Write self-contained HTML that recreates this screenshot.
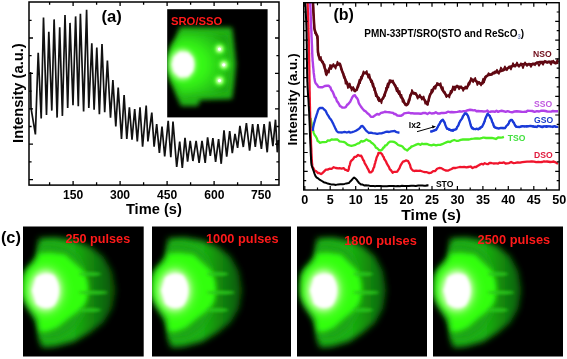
<!DOCTYPE html>
<html><head><meta charset="utf-8"><style>
html,body{margin:0;padding:0;background:#fff;overflow:hidden;}
svg{display:block;will-change:transform;}
</style></head><body>
<svg width="567" height="359" viewBox="0 0 567 359">
<defs>
<radialGradient id="gins" gradientUnits="userSpaceOnUse" cx="184" cy="64.5" r="52" gradientTransform="translate(184,64.5) scale(1,0.85) translate(-184,-64.5)"><stop offset="0" stop-color="#3cff14"/><stop offset="0.4" stop-color="#36f812"/><stop offset="0.75" stop-color="#26c414"/><stop offset="1" stop-color="#189a0e"/></radialGradient>
<linearGradient id="gmed" gradientUnits="userSpaceOnUse" x1="55" y1="0" x2="92" y2="0"><stop offset="0" stop-color="#1ab012"/><stop offset="1" stop-color="#0a5806"/></linearGradient>
<filter id="b6" x="-50%" y="-50%" width="200%" height="200%"><feGaussianBlur stdDeviation="6"/></filter>
<filter id="b5" x="-50%" y="-50%" width="200%" height="200%"><feGaussianBlur stdDeviation="5"/></filter>
<filter id="b4" x="-50%" y="-50%" width="200%" height="200%"><feGaussianBlur stdDeviation="4"/></filter>
<filter id="b3" x="-50%" y="-50%" width="200%" height="200%"><feGaussianBlur stdDeviation="3"/></filter>
<filter id="b25" x="-50%" y="-50%" width="200%" height="200%"><feGaussianBlur stdDeviation="2.5"/></filter>
<filter id="b2" x="-50%" y="-50%" width="200%" height="200%"><feGaussianBlur stdDeviation="2"/></filter>
<filter id="b15" x="-50%" y="-50%" width="200%" height="200%"><feGaussianBlur stdDeviation="1.5"/></filter>
<filter id="b1" x="-50%" y="-50%" width="200%" height="200%"><feGaussianBlur stdDeviation="1"/></filter>
<filter id="b05" x="-50%" y="-50%" width="200%" height="200%"><feGaussianBlur stdDeviation="0.5"/></filter>
</defs>
<rect width="567" height="359" fill="#fff"/>
<polyline points="30.5,72.0 31.0,108.0 35.4,134.4 38.2,52.9 41.2,118.5 43.5,17.6 46.5,115.0 48.8,31.7 51.8,110.6 54.1,19.4 57.1,117.6 59.7,27.3 62.4,115.9 65.0,15.0 67.7,108.0 70.0,22.9 73.0,105.3 75.6,16.4 78.3,106.2 80.4,13.8 83.6,111.5 86.6,9.7 88.8,108.0 91.8,43.2 94.1,109.7 96.8,47.6 99.4,114.1 102.0,44.0 104.7,112.3 107.4,60.5 110.5,117.6 112.9,80.0 115.8,126.5 118.2,87.5 121.5,139.0 124.1,95.0 126.8,139.0 129.4,107.3 132.0,139.7 134.7,109.1 137.3,141.5 140.0,107.3 142.6,146.7 146.2,105.6 147.9,141.5 151.8,112.6 154.1,146.7 156.7,124.1 159.4,152.9 162.0,126.7 164.7,156.4 168.2,120.8 170.8,157.3 173.0,121.6 176.7,167.0 179.7,141.5 182.3,167.9 185.0,137.9 187.6,161.7 190.2,140.8 192.9,161.0 196.1,140.8 199.1,162.9 202.0,140.8 205.2,162.9 207.6,137.3 210.3,155.9 212.9,138.2 215.6,162.0 218.6,139.1 221.2,163.8 224.0,130.3 226.7,156.7 229.7,131.2 232.3,153.2 235.0,133.8 237.6,147.9 239.9,125.9 243.3,147.0 246.4,123.2 249.6,150.6 252.6,124.1 255.3,147.0 257.9,124.1 261.4,148.8 264.1,124.1 267.2,152.3 269.7,121.5 272.9,146.2 275.5,119.7 277.3,152.3 278.5,140.0" fill="none" stroke="#111" stroke-width="1.7" stroke-linejoin="miter" stroke-miterlimit="4"/>
<rect x="29" y="2.0" width="250" height="183.1" fill="none" stroke="#000" stroke-width="1.5"/>
<path d="M49.6,185.1v-2.8M49.6,2.0v2.8M73.1,185.1v-4M73.1,2.0v4M96.6,185.1v-2.8M96.6,2.0v2.8M120.1,185.1v-4M120.1,2.0v4M143.6,185.1v-2.8M143.6,2.0v2.8M167.1,185.1v-4M167.1,2.0v4M190.6,185.1v-2.8M190.6,2.0v2.8M214.1,185.1v-4M214.1,2.0v4M237.6,185.1v-2.8M237.6,2.0v2.8M261.1,185.1v-4M261.1,2.0v4M29,20.3h2.6M279,20.3h-2.6M29,38.0h4M279,38.0h-4M29,55.7h2.6M279,55.7h-2.6M29,73.4h4M279,73.4h-4M29,91.1h2.6M279,91.1h-2.6M29,108.8h4M279,108.8h-4M29,126.5h2.6M279,126.5h-2.6M29,144.2h4M279,144.2h-4M29,161.9h2.6M279,161.9h-2.6M29,179.6h4M279,179.6h-4" stroke="#000" stroke-width="1.3" fill="none"/>
<text x="73.1" y="199.1" font-family="Liberation Sans, sans-serif" font-weight="bold" font-size="12.1" text-anchor="middle">150</text>
<text x="120" y="199.1" font-family="Liberation Sans, sans-serif" font-weight="bold" font-size="12.1" text-anchor="middle">300</text>
<text x="167.2" y="199.1" font-family="Liberation Sans, sans-serif" font-weight="bold" font-size="12.1" text-anchor="middle">450</text>
<text x="214.3" y="199.1" font-family="Liberation Sans, sans-serif" font-weight="bold" font-size="12.1" text-anchor="middle">600</text>
<text x="261.1" y="199.1" font-family="Liberation Sans, sans-serif" font-weight="bold" font-size="12.1" text-anchor="middle">750</text>
<text x="125.9" y="213.6" font-family="Liberation Sans, sans-serif" font-weight="bold" font-size="14.2" textLength="55.9" lengthAdjust="spacingAndGlyphs">Time (s)</text>
<text transform="translate(22.8,93.1) rotate(-90)" font-family="Liberation Sans, sans-serif" font-weight="bold" font-size="14.7" text-anchor="middle">Intensity (a.u.)</text>
<text x="101.4" y="22.1" font-family="Liberation Sans, sans-serif" font-weight="bold" font-size="16.4" textLength="20.4" lengthAdjust="spacingAndGlyphs">(a)</text>
<rect x="167.2" y="9.2" width="100.4" height="108.2" fill="#000"/><clipPath id="cins"><rect x="167.2" y="9.2" width="100.4" height="108.2"/></clipPath><g clip-path="url(#cins)"><polygon points="180.0,27.0 232.0,27.5 234.0,45.0 236.0,64.0 234.0,84.0 232.0,99.0 200.0,100.0 198.0,106.0 181.0,106.0 177.0,97.0 171.0,82.0 167.0,70.0 167.0,58.0 171.0,46.0 176.0,37.0" fill="#22b416" filter="url(#b25)"/><polygon points="181.0,33.0 228.0,35.0 230.0,64.0 228.0,92.0 200.0,94.0 181.0,96.0 177.0,87.0 172.0,80.0 169.0,72.0 169.0,56.0 172.0,48.0 177.0,41.0" fill="url(#gins)" filter="url(#b3)"/><path d="M224,64.8L240,64.8" stroke="#50e040" stroke-width="2" filter="url(#b1)"/><circle cx="219.5" cy="49.1" r="6" fill="#40f020" filter="url(#b2)"/><circle cx="219.5" cy="49.1" r="4" fill="#90ff60" filter="url(#b15)"/><circle cx="219.5" cy="49.1" r="2.6" fill="#d0ffc0" filter="url(#b1)"/><circle cx="219.5" cy="49.1" r="1.6" fill="#fff" filter="url(#b05)"/><circle cx="223.8" cy="64.8" r="6" fill="#40f020" filter="url(#b2)"/><circle cx="223.8" cy="64.8" r="4" fill="#90ff60" filter="url(#b15)"/><circle cx="223.8" cy="64.8" r="2.6" fill="#d0ffc0" filter="url(#b1)"/><circle cx="223.8" cy="64.8" r="1.6" fill="#fff" filter="url(#b05)"/><circle cx="219.5" cy="80.6" r="6" fill="#40f020" filter="url(#b2)"/><circle cx="219.5" cy="80.6" r="4" fill="#90ff60" filter="url(#b15)"/><circle cx="219.5" cy="80.6" r="2.6" fill="#d0ffc0" filter="url(#b1)"/><circle cx="219.5" cy="80.6" r="1.6" fill="#fff" filter="url(#b05)"/><ellipse cx="182.6" cy="64.5" rx="13" ry="15.5" fill="#c0ffa8" filter="url(#b25)"/><path d="M174,57L180,52L188,52.5L193,58L194,64.5L193,71L188,76.5L180,77L174,72L172,64.5Z" fill="#fff" filter="url(#b15)"/></g>
<text x="170.9" y="24.7" font-family="Liberation Sans, sans-serif" font-weight="bold" font-size="11.8" fill="#ff1a1a" textLength="51.5" lengthAdjust="spacingAndGlyphs">SRO/SSO</text>
<rect x="23" y="226.5" width="120.69999999999999" height="130" fill="#000"/><clipPath id="cr0"><rect x="23" y="226.5" width="120.69999999999999" height="130"/></clipPath><g clip-path="url(#cr0)"><g transform="translate(19,226.5)"><polygon points="20.0,12.0 36.1,11.0 55.1,14.0 70.8,20.0 84.2,30.0 93.2,45.0 96.6,64.0 93.2,82.0 84.2,96.0 70.8,106.0 55.1,115.0 36.1,120.0 23.0,121.0 20.0,112.0 19.0,102.0 17.0,93.0 12.5,84.0 7.0,76.0 4.0,69.0 3.5,60.0 4.0,50.0 7.0,43.0 12.5,37.0 17.0,31.0 19.0,22.0" fill="url(#gmed)" filter="url(#b3)"/><polygon points="21.0,18.0 30.5,17.0 46.2,20.0 58.5,28.0 64.1,40.0 64.1,88.0 55.1,102.0 39.4,112.0 23.0,113.0 21.0,106.0 19.0,97.0 14.0,88.0 8.0,79.0 5.0,70.0 4.5,60.0 5.0,50.0 8.0,43.0 14.0,37.0 19.0,30.0 20.0,24.0" fill="#1ca412" filter="url(#b3)"/><polygon points="20.0,27.0 30.5,26.0 46.2,28.0 56.2,37.0 65.2,45.0 68.6,55.0 69.7,64.0 67.4,75.0 61.8,83.0 49.5,92.0 38.3,101.0 28.2,105.0 21.0,105.0 20.0,100.0 19.0,91.0 15.0,83.0 9.0,75.0 6.0,69.0 5.5,60.0 6.0,50.0 9.0,44.0 15.0,38.0 19.0,31.0" fill="#30ff0a" filter="url(#b25)"/><ellipse cx="70.8" cy="47.5" rx="11.2" ry="1.8" fill="#2cc81a" filter="url(#b15)"/><ellipse cx="74.16" cy="66" rx="14.559999999999999" ry="1.8" fill="#2cc81a" filter="url(#b15)"/><ellipse cx="70.8" cy="83.5" rx="11.2" ry="1.8" fill="#2cc81a" filter="url(#b15)"/><ellipse cx="27" cy="64" rx="20" ry="25" fill="#70ff48" filter="url(#b4)"/><ellipse cx="26.5" cy="64" rx="16" ry="20.5" fill="#c0ffa8" filter="url(#b25)"/><path d="M17,51Q26,44 35,49Q40,56 40,64Q40,72 35,79Q26,85 17,77Q15,71 13,64Q15,57 17,51Z" fill="#fff" filter="url(#b15)"/></g></g>
<text x="65.4" y="242.8" font-family="Liberation Sans, sans-serif" font-weight="bold" font-size="12.6" fill="#ff1a1a" textLength="64.8" lengthAdjust="spacingAndGlyphs">250 pulses</text>
<rect x="152" y="226.5" width="139" height="130" fill="#000"/><clipPath id="cr1"><rect x="152" y="226.5" width="139" height="130"/></clipPath><g clip-path="url(#cr1)"><g transform="translate(148.2,226.5)"><polygon points="20.0,12.0 35.7,11.0 54.1,14.0 69.2,20.0 82.2,30.0 90.8,45.0 94.0,64.0 90.8,82.0 82.2,96.0 69.2,106.0 54.1,115.0 35.7,120.0 23.0,121.0 20.0,112.0 19.0,102.0 17.0,93.0 12.5,84.0 7.0,76.0 4.0,69.0 3.5,60.0 4.0,50.0 7.0,43.0 12.5,37.0 17.0,31.0 19.0,22.0" fill="url(#gmed)" filter="url(#b3)"/><polygon points="21.0,18.0 30.3,17.0 45.4,20.0 57.3,28.0 62.7,40.0 62.7,88.0 54.1,102.0 39.0,112.0 23.0,113.0 21.0,106.0 19.0,97.0 14.0,88.0 8.0,79.0 5.0,70.0 4.5,60.0 5.0,50.0 8.0,43.0 14.0,37.0 19.0,30.0 20.0,24.0" fill="#1ca412" filter="url(#b3)"/><polygon points="20.0,27.0 30.3,26.0 45.4,28.0 55.2,37.0 63.8,45.0 67.0,55.0 68.1,64.0 66.0,75.0 60.6,83.0 48.7,92.0 37.9,101.0 28.2,105.0 21.0,105.0 20.0,100.0 19.0,91.0 15.0,83.0 9.0,75.0 6.0,69.0 5.5,60.0 6.0,50.0 9.0,44.0 15.0,38.0 19.0,31.0" fill="#30ff0a" filter="url(#b25)"/><ellipse cx="69.2" cy="47.5" rx="10.799999999999997" ry="1.8" fill="#2cc81a" filter="url(#b15)"/><ellipse cx="72.44" cy="66" rx="14.04" ry="1.8" fill="#2cc81a" filter="url(#b15)"/><ellipse cx="69.2" cy="83.5" rx="10.799999999999997" ry="1.8" fill="#2cc81a" filter="url(#b15)"/><ellipse cx="27" cy="64" rx="20" ry="25" fill="#70ff48" filter="url(#b4)"/><ellipse cx="26.5" cy="64" rx="16" ry="20.5" fill="#c0ffa8" filter="url(#b25)"/><path d="M17,51Q26,44 35,49Q40,56 40,64Q40,72 35,79Q26,85 17,77Q15,71 13,64Q15,57 17,51Z" fill="#fff" filter="url(#b15)"/></g></g>
<text x="206" y="243.1" font-family="Liberation Sans, sans-serif" font-weight="bold" font-size="12.6" fill="#ff1a1a" textLength="72.6" lengthAdjust="spacingAndGlyphs">1000 pulses</text>
<rect x="297" y="226.5" width="130" height="130" fill="#000"/><clipPath id="cr2"><rect x="297" y="226.5" width="130" height="130"/></clipPath><g clip-path="url(#cr2)"><g transform="translate(297,226.5)"><polygon points="20.0,12.0 35.0,11.0 52.0,14.0 66.0,20.0 78.0,30.0 86.0,45.0 89.0,64.0 86.0,82.0 78.0,96.0 66.0,106.0 52.0,115.0 35.0,120.0 23.0,121.0 20.0,112.0 19.0,102.0 17.0,93.0 12.5,84.0 7.0,76.0 4.0,69.0 3.5,60.0 4.0,50.0 7.0,43.0 12.5,37.0 17.0,31.0 19.0,22.0" fill="url(#gmed)" filter="url(#b3)"/><polygon points="21.0,18.0 30.0,17.0 44.0,20.0 55.0,28.0 60.0,40.0 60.0,88.0 52.0,102.0 38.0,112.0 23.0,113.0 21.0,106.0 19.0,97.0 14.0,88.0 8.0,79.0 5.0,70.0 4.5,60.0 5.0,50.0 8.0,43.0 14.0,37.0 19.0,30.0 20.0,24.0" fill="#1ca412" filter="url(#b3)"/><polygon points="20.0,27.0 30.0,26.0 44.0,28.0 53.0,37.0 61.0,45.0 64.0,55.0 65.0,64.0 63.0,75.0 58.0,83.0 47.0,92.0 37.0,101.0 28.0,105.0 21.0,105.0 20.0,100.0 19.0,91.0 15.0,83.0 9.0,75.0 6.0,69.0 5.5,60.0 6.0,50.0 9.0,44.0 15.0,38.0 19.0,31.0" fill="#30ff0a" filter="url(#b25)"/><ellipse cx="66.0" cy="47.5" rx="10.0" ry="1.8" fill="#2cc81a" filter="url(#b15)"/><ellipse cx="69.0" cy="66" rx="13.0" ry="1.8" fill="#2cc81a" filter="url(#b15)"/><ellipse cx="66.0" cy="83.5" rx="10.0" ry="1.8" fill="#2cc81a" filter="url(#b15)"/><ellipse cx="27" cy="64" rx="20" ry="25" fill="#70ff48" filter="url(#b4)"/><ellipse cx="26.5" cy="64" rx="16" ry="20.5" fill="#c0ffa8" filter="url(#b25)"/><path d="M17,51Q26,44 35,49Q40,56 40,64Q40,72 35,79Q26,85 17,77Q15,71 13,64Q15,57 17,51Z" fill="#fff" filter="url(#b15)"/></g></g>
<text x="344.2" y="244.6" font-family="Liberation Sans, sans-serif" font-weight="bold" font-size="12.6" fill="#ff1a1a" textLength="72.7" lengthAdjust="spacingAndGlyphs">1800 pulses</text>
<rect x="433" y="226.5" width="130" height="130" fill="#000"/><clipPath id="cr3"><rect x="433" y="226.5" width="130" height="130"/></clipPath><g clip-path="url(#cr3)"><g transform="translate(430.5,226.5)"><polygon points="20.0,12.0 35.3,11.0 52.8,14.0 67.2,20.0 79.6,30.0 87.8,45.0 90.9,64.0 87.8,82.0 79.6,96.0 67.2,106.0 52.8,115.0 35.3,120.0 23.0,121.0 20.0,112.0 19.0,102.0 17.0,93.0 12.5,84.0 7.0,76.0 4.0,69.0 3.5,60.0 4.0,50.0 7.0,43.0 12.5,37.0 17.0,31.0 19.0,22.0" fill="url(#gmed)" filter="url(#b3)"/><polygon points="21.0,18.0 30.1,17.0 44.5,20.0 55.9,28.0 61.0,40.0 61.0,88.0 52.8,102.0 38.4,112.0 23.0,113.0 21.0,106.0 19.0,97.0 14.0,88.0 8.0,79.0 5.0,70.0 4.5,60.0 5.0,50.0 8.0,43.0 14.0,37.0 19.0,30.0 20.0,24.0" fill="#1ca412" filter="url(#b3)"/><polygon points="20.0,27.0 30.1,26.0 44.5,28.0 53.8,37.0 62.1,45.0 65.1,55.0 66.2,64.0 64.1,75.0 59.0,83.0 47.6,92.0 37.3,101.0 28.1,105.0 21.0,105.0 20.0,100.0 19.0,91.0 15.0,83.0 9.0,75.0 6.0,69.0 5.5,60.0 6.0,50.0 9.0,44.0 15.0,38.0 19.0,31.0" fill="#30ff0a" filter="url(#b25)"/><ellipse cx="67.2" cy="47.5" rx="10.299999999999997" ry="1.8" fill="#2cc81a" filter="url(#b15)"/><ellipse cx="70.29" cy="66" rx="13.39" ry="1.8" fill="#2cc81a" filter="url(#b15)"/><ellipse cx="67.2" cy="83.5" rx="10.299999999999997" ry="1.8" fill="#2cc81a" filter="url(#b15)"/><ellipse cx="27" cy="64" rx="20" ry="25" fill="#70ff48" filter="url(#b4)"/><ellipse cx="26.5" cy="64" rx="16" ry="20.5" fill="#c0ffa8" filter="url(#b25)"/><path d="M17,51Q26,44 35,49Q40,56 40,64Q40,72 35,79Q26,85 17,77Q15,71 13,64Q15,57 17,51Z" fill="#fff" filter="url(#b15)"/></g></g>
<text x="477.6" y="243.9" font-family="Liberation Sans, sans-serif" font-weight="bold" font-size="12.6" fill="#ff1a1a" textLength="72.6" lengthAdjust="spacingAndGlyphs">2500 pulses</text>
<text x="0.9" y="243" font-family="Liberation Sans, sans-serif" font-weight="bold" font-size="16.4">(c)</text>
<polyline points="313.0,2.7 313.1,5.1 313.3,7.6 313.4,12.0 313.6,14.4 313.8,19.1 314.0,22.3 314.2,24.9 314.4,28.6 315.0,31.1 316.3,34.3 317.4,36.1 317.6,38.9 317.7,42.9 317.8,47.3 317.8,49.3 318.0,52.4 318.9,56.6 320.4,59.2 321.9,61.2 323.5,63.9 324.7,68.2 325.5,69.9 326.2,74.3 328.4,70.8 329.5,68.3 331.2,65.7 334.7,66.1 337.4,64.8 339.6,63.6 340.8,66.9 341.9,70.5 343.0,73.2 344.0,76.6 345.1,78.8 346.3,81.7 347.9,84.5 350.8,87.5 353.3,88.4 355.0,91.1 356.9,89.3 358.0,86.0 359.3,82.3 360.5,80.1 362.0,76.8 363.4,73.5 365.6,72.7 368.1,74.8 369.5,77.7 370.9,80.2 372.0,81.8 373.1,86.3 374.2,88.0 375.4,91.9 376.4,95.5 377.9,97.4 379.2,100.8 381.5,99.9 382.9,98.6 384.2,95.8 385.5,92.0 386.4,90.2 387.6,85.8 388.8,83.9 390.8,80.7 393.0,82.5 394.9,85.1 396.6,88.9 398.2,92.1 399.7,93.9 401.2,97.1 402.5,98.4 404.3,102.8 406.3,105.2 408.1,103.6 409.4,99.8 410.2,96.2 411.5,93.2 414.1,93.0 415.8,93.8 417.6,96.6 420.8,97.0 423.7,98.6 425.2,101.0 427.3,104.3 428.5,100.3 429.3,97.2 430.4,94.0 432.0,92.1 434.1,87.5 436.3,85.5 438.3,83.9 440.7,85.8 441.7,88.2 443.4,91.4 444.5,92.6 446.4,95.8 448.8,95.6 450.5,93.5 451.7,91.4 453.9,87.3 457.0,86.4 460.1,87.0 463.2,88.4 465.9,88.3 467.8,86.0 469.6,82.3 471.6,79.4 474.2,80.0 477.3,81.8 480.3,83.7 482.5,83.4 484.2,79.9 485.8,76.7 488.5,75.0 491.7,74.4 494.8,71.9 497.9,72.4 500.9,70.9 503.9,69.9 506.9,68.6 510.0,66.8 513.0,66.0 516.0,64.9 519.0,65.5 522.0,64.2 525.0,64.1 528.0,64.5 531.0,64.3 534.0,64.1 537.0,62.8 540.0,62.1 543.0,62.0 546.0,61.7 549.0,62.2 552.0,61.6 555.6,63.2 558.3,62.5" fill="none" stroke="#600812" stroke-width="2.6" stroke-linejoin="round"/>
<polyline points="313.0,2.7 313.1,6.9 313.2,6.3 313.3,10.7 313.4,10.2 313.5,15.6 313.7,15.6 313.8,21.8 313.9,18.2 314.1,25.5 314.2,23.9 314.4,28.6 314.6,29.1 315.0,33.5 315.8,32.6 317.1,38.4 317.5,36.7 317.6,40.4 317.7,38.8 317.7,46.2 317.8,45.6 317.8,51.0 317.9,50.4 318.0,54.9 318.4,52.1 319.3,59.9 320.9,56.8 321.9,62.4 323.0,61.5 324.0,66.2 324.7,64.6 325.3,71.6 325.7,69.3 326.5,75.5 327.7,71.5 329.0,72.7 330.0,64.8 331.2,69.3 333.4,63.9 335.6,68.7 337.4,61.6 339.2,65.0 340.4,63.8 341.1,69.4 341.9,69.5 342.7,73.3 343.4,73.1 344.0,77.8 344.7,76.2 345.5,83.8 346.3,80.8 347.9,88.2 349.8,83.4 351.7,90.7 353.3,86.9 354.3,91.3 355.9,89.9 356.9,90.3 357.6,86.1 358.4,87.2 359.3,79.7 360.1,83.3 360.8,76.8 362.0,78.7 363.4,71.3 364.8,73.5 366.8,70.9 368.1,77.7 369.5,74.3 370.9,82.3 372.0,80.4 372.7,85.4 373.5,83.8 374.2,90.3 375.0,88.3 375.7,96.2 376.4,93.3 377.9,99.8 379.2,97.7 381.5,103.3 382.5,98.0 383.3,98.3 384.2,94.3 385.1,96.0 385.9,87.9 386.8,89.3 387.6,83.4 388.4,87.4 389.4,80.0 390.8,82.1 393.0,80.3 394.4,85.3 395.5,85.5 396.6,91.3 397.7,87.9 398.7,94.1 399.7,90.9 400.7,97.7 401.6,94.8 402.5,102.0 403.6,99.9 404.9,104.9 406.3,103.5 407.7,104.8 408.5,99.5 409.4,100.5 410.2,94.9 411.1,95.3 411.9,89.8 414.1,94.2 415.8,93.0 417.6,98.8 419.8,94.5 421.9,99.7 423.7,96.4 425.2,103.8 426.6,101.8 427.9,104.8 428.5,100.4 429.0,100.6 429.6,95.3 430.4,94.8 431.4,89.6 432.7,91.4 434.1,86.5 435.6,88.9 437.0,82.8 438.8,85.0 440.7,83.1 441.7,89.7 442.8,87.0 443.9,92.7 445.1,92.1 446.4,97.2 448.2,95.1 449.4,97.6 450.5,90.8 451.7,92.5 452.9,86.2 454.9,90.4 457.0,85.3 459.1,89.4 461.1,86.1 463.2,90.9 465.3,86.4 467.2,88.6 468.4,82.8 469.6,84.6 470.9,77.9 473.2,82.3 475.2,77.8 477.3,85.1 479.3,81.9 481.1,85.6 483.1,78.6 484.2,82.4 485.3,76.5 486.4,77.0 488.5,73.0 490.6,75.1 492.7,72.4 494.8,73.7 497.0,69.6 498.9,73.9 500.9,67.4 503.0,70.5 504.9,66.3 506.9,70.3 509.0,66.3 511.0,69.6 513.0,63.1 515.0,67.0 517.0,62.4 519.0,66.9 521.0,63.2 523.0,68.2 525.0,62.2 527.0,66.1 529.0,63.4 531.0,67.0 533.0,63.2 535.0,65.3 537.0,62.2 539.0,65.8 541.0,62.3 543.0,64.8 545.0,60.7 547.0,63.1 549.0,61.0 551.0,64.7 553.2,60.5 555.6,63.3 557.6,59.3 558.3,62.5" fill="none" stroke="#600812" stroke-width="1.6" stroke-linejoin="round"/>
<polyline points="310.2,2.7 310.3,5.0 310.3,6.8 310.4,7.1 310.5,9.3 310.6,11.0 310.6,14.3 310.7,15.7 310.8,17.8 310.9,20.7 311.0,23.8 311.1,26.0 311.2,27.4 311.3,29.4 311.4,32.6 311.5,34.0 311.5,36.3 311.6,37.4 311.7,39.4 311.8,42.6 311.9,44.3 312.0,45.9 312.1,49.4 312.2,51.0 312.2,53.2 312.3,54.1 312.4,57.2 312.5,57.8 312.6,60.8 312.8,62.2 312.9,63.3 313.0,64.9 313.1,66.7 313.3,68.0 313.5,70.0 313.7,72.7 313.9,74.2 314.1,75.7 314.3,77.4 314.5,78.6 315.0,81.6 315.6,83.2 316.9,84.6 318.5,87.0 320.6,87.3 322.5,87.3 324.8,86.0 326.9,85.7 328.8,85.6 329.7,86.8 330.5,87.5 331.2,89.8 332.1,91.0 332.9,92.2 334.0,95.0 334.8,97.3 335.8,97.9 336.9,101.1 338.0,102.4 339.1,104.3 340.0,106.1 341.2,106.6 342.2,107.5 344.4,107.6 345.8,107.1 347.4,104.4 348.2,104.3 348.9,103.2 350.4,101.4 351.0,100.0 351.6,98.8 352.3,97.2 353.6,95.6 355.0,95.2 356.0,97.2 357.0,98.2 357.6,99.2 358.1,100.2 358.6,102.6 359.2,103.9 359.7,104.7 360.7,106.2 362.0,108.0 362.8,109.0 364.3,110.7 365.8,111.4 367.4,113.3 369.1,114.5 370.9,116.7 372.8,116.9 374.9,115.5 377.1,114.0 379.0,114.6 381.0,112.9 383.1,112.5 385.1,111.7 387.1,112.1 389.2,112.2 391.2,112.6 393.3,113.0 394.3,114.1 395.4,114.0 397.3,115.5 399.6,115.7 400.8,115.9 403.0,114.6 404.0,113.4 407.3,112.9 408.6,112.7 410.3,113.2 412.1,113.1 414.1,113.5 416.3,113.4 418.5,113.5 420.8,113.8 423.1,113.0 425.3,112.9 427.4,114.0 429.4,112.7 431.5,113.5 433.7,113.3 435.8,112.3 437.8,113.5 439.7,113.5 441.6,112.9 443.6,113.0 445.7,112.9 447.9,111.7 449.8,112.2 451.6,112.0 453.6,112.3 455.5,112.1 457.5,111.9 459.5,111.3 461.6,111.6 463.6,111.1 465.8,111.0 468.0,110.2 470.0,109.8 471.8,110.0 473.4,110.4 475.0,110.1 476.5,111.3 478.2,111.0 479.9,111.2 481.7,111.3 483.8,111.5 486.1,111.3 487.4,110.6 488.7,111.9 490.1,111.8 491.7,111.5 493.3,111.5 495.0,111.8 496.5,110.8 498.1,111.9 499.8,111.1 501.6,110.8 503.6,111.2 505.6,111.9 507.7,111.1 509.9,111.9 512.1,112.3 514.4,111.5 516.8,111.3 519.1,111.5 521.5,111.8 523.9,111.9 525.1,111.7 526.3,111.7 527.5,110.8 529.9,110.9 532.3,111.0 534.6,111.8 536.9,111.1 539.2,111.5 541.4,110.6 543.5,110.7 545.6,111.0 547.5,111.6 549.4,111.6 551.1,111.6 552.8,111.0 554.3,111.3 555.7,111.3 556.9,111.3 558.0,111.3" fill="none" stroke="#b040e8" stroke-width="2.4" stroke-linejoin="round"/>
<polyline points="310.5,118.0 310.8,118.9 311.1,121.7 311.4,122.3 311.8,125.4 312.2,127.5 312.7,128.4 313.2,130.8 313.6,132.6 314.6,134.9 315.5,136.0 316.5,137.8 317.1,138.9 317.6,141.0 318.8,141.6 319.8,142.8 322.3,142.2 324.2,142.2 326.5,141.9 327.7,140.4 329.5,140.7 331.5,139.5 333.6,139.6 335.6,139.5 337.5,139.5 339.5,141.3 341.6,141.7 343.6,141.9 345.6,142.8 347.5,144.6 349.5,145.4 351.4,145.8 353.4,145.4 355.4,144.9 357.4,143.6 359.4,143.1 361.2,141.0 362.3,141.6 364.5,140.9 366.5,139.4 368.3,140.6 370.1,141.2 371.7,143.1 372.5,143.2 373.5,144.2 375.0,145.8 375.8,147.6 376.7,147.9 377.5,148.5 379.2,150.2 380.6,150.7 382.2,149.5 383.5,147.5 384.2,147.4 385.0,145.7 386.6,145.1 388.4,142.7 390.3,141.6 392.2,141.7 394.3,142.0 396.4,143.3 398.2,145.0 399.3,145.3 401.0,145.8 402.8,146.8 403.7,148.1 404.6,149.1 405.5,149.4 407.3,150.6 408.9,148.8 410.4,147.8 411.4,146.5 412.6,146.3 414.3,145.5 416.2,144.6 418.3,143.9 420.7,144.8 421.9,143.6 423.2,144.1 425.1,143.9 427.1,144.0 429.3,144.9 431.5,145.4 433.7,144.7 436.0,145.3 438.1,144.8 440.2,144.9 442.2,144.2 444.2,143.2 446.2,142.4 448.1,141.7 450.1,142.0 452.1,140.8 454.2,140.0 456.3,140.8 458.5,140.8 460.7,139.9 462.9,139.5 465.1,139.5 467.1,139.3 469.1,139.5 471.4,138.9 473.6,138.7 475.8,138.4 477.8,138.5 479.7,138.6 481.4,138.2 482.7,137.7 484.0,137.7 486.1,138.0 488.0,138.0 490.1,138.0 491.9,137.9 493.9,138.3 495.9,139.0 498.1,137.5 500.4,137.6 502.5,137.3 503.9,136.8" fill="none" stroke="#4cf022" stroke-width="2.3" stroke-linejoin="round"/>
<polyline points="312.5,131.0 312.8,130.1 313.2,127.3 313.7,125.1 314.2,122.8 314.8,120.9 315.3,118.8 315.9,117.3 316.5,115.1 317.2,113.2 318.1,110.2 318.7,109.0 320.0,108.0 321.5,107.8 322.7,108.0 324.1,109.5 325.5,110.6 326.2,112.1 327.0,113.8 327.7,114.8 328.7,116.4 329.7,118.3 330.8,119.4 331.9,121.2 332.9,123.1 333.9,125.3 334.7,126.9 335.4,128.6 335.9,129.4 336.7,131.1 338.3,132.3 340.0,132.3 342.2,132.5 344.6,131.8 346.9,132.5 348.9,131.7 350.1,132.5 352.2,132.1 354.1,131.5 355.9,130.8 357.9,129.5 358.8,129.0 359.7,128.2 361.2,126.2 362.5,126.0 363.8,127.6 364.9,129.0 366.1,130.6 367.9,132.1 369.1,133.0 370.8,132.6 372.7,133.1 375.0,133.3 377.2,133.8 379.5,133.3 381.5,133.4 383.7,132.7 384.9,132.2 387.1,131.7 389.1,132.0 391.2,131.4 393.5,131.1 394.7,131.0 395.9,131.8 398.0,132.5 399.5,132.6" fill="none" stroke="#1a3ad8" stroke-width="2.3" stroke-linejoin="round"/>
<polyline points="430.3,131.7 431.9,131.2 434.2,130.2 435.4,130.1 436.4,129.6 437.6,127.2 438.7,125.0 439.3,124.2 440.3,122.3 441.3,121.0 442.8,119.6 444.4,122.4 445.1,124.2 445.4,125.1 445.7,125.9 447.0,128.8 448.7,128.9 450.9,130.3 453.1,130.0 455.0,129.7 456.3,129.2 457.3,126.9 458.3,125.6 458.8,124.0 459.4,122.5 460.4,120.7 461.0,119.9 461.6,119.1 462.2,118.3 462.8,116.3 464.0,114.6 465.0,113.1 466.7,114.3 467.7,115.3 468.2,116.4 468.6,117.7 469.1,119.3 469.8,121.8 470.4,124.1 471.0,126.2 472.0,128.2 473.5,129.1 475.7,128.8 476.9,128.6 478.1,129.4 479.3,128.8 480.4,127.4 482.0,126.9 483.1,124.8 484.0,122.7 484.5,121.5 484.9,120.1 485.7,117.7 486.4,116.3 487.7,113.6 488.9,115.2 489.9,116.0 490.4,118.1 491.0,118.3 491.5,119.7 492.0,121.4 492.9,123.3 493.3,124.1 493.7,125.6 495.0,127.5 496.6,127.8 498.6,128.7 500.9,127.9 503.1,128.0 505.0,128.1 506.7,125.6 507.4,125.1 508.1,124.4 508.8,123.3 509.4,121.4 510.7,120.0 512.0,120.0 513.3,122.5 513.9,122.7 514.6,124.4 515.2,125.7 516.3,126.9 516.4,126.8 520.0,127.0 521.2,126.6 522.7,126.2 524.5,126.7 526.4,126.2 528.5,126.2 530.7,125.8 533.1,126.7 534.3,126.9 535.5,126.6 536.7,127.0 538.0,125.9 539.2,126.1 540.4,126.4 541.7,127.0 542.9,127.0 544.1,126.3 546.5,126.2 548.7,126.4 550.9,126.5 552.8,127.0 554.6,126.1 556.2,126.9 557.5,126.8 558.0,126.5" fill="none" stroke="#1a3ad8" stroke-width="2.3" stroke-linejoin="round"/>
<polyline points="430.3,131.7 431.9,131.8 434.2,131.0 435.4,130.1 436.4,128.8 437.6,127.2 438.7,125.3 439.3,124.9 440.3,121.6 441.3,120.2 442.8,120.4 444.4,121.5 445.1,123.1 445.4,124.3 445.7,126.4 447.0,127.9 448.7,130.0 450.9,130.6 453.1,131.2 455.0,129.6 456.3,128.2 457.3,126.4 458.3,125.1 458.8,124.4 459.4,122.8 460.4,120.6 461.0,119.9 461.6,119.1 462.2,118.1 462.8,117.1 464.0,115.4 465.0,113.8 466.7,113.1 467.7,116.3 468.2,116.6 468.6,118.4 469.1,119.2 469.8,121.8 470.4,123.1 471.0,125.4 472.0,127.2 473.5,128.0 475.7,129.7 476.9,129.2 478.1,128.5 479.3,128.3 480.4,128.9 482.0,126.7 483.1,124.5 484.0,123.4 484.5,121.9 484.9,121.4 485.7,117.6 486.4,116.5 487.7,114.3 488.9,115.2 489.9,117.1 490.4,116.7 491.0,118.3 491.5,119.2 492.0,120.5 492.9,123.8 493.3,124.3 493.7,127.0 495.0,127.3 496.6,128.6 498.6,128.1 500.9,127.9 503.1,128.6 505.0,128.4 506.7,125.5 507.4,125.3 508.1,124.3 508.8,122.4 509.4,121.7 510.7,119.9 512.0,120.0 513.3,121.5 513.9,123.2 514.6,124.4 515.2,124.7 516.3,126.2 516.4,126.8 520.0,126.8 521.2,125.9 522.7,126.1 524.5,125.9 526.4,127.0 528.5,126.5 530.7,125.6 533.1,125.7 534.3,126.2 535.5,126.5 536.7,126.7 538.0,125.7 539.2,125.8 540.4,126.8 541.7,126.3 542.9,126.1 544.1,126.1 546.5,127.3 548.7,126.1 550.9,126.6 552.8,126.2 554.6,126.3 556.2,127.2 557.5,127.4 558.0,126.5" fill="none" stroke="#1a3ad8" stroke-width="1.4" stroke-linejoin="round"/>
<polyline points="307.6,2.7 307.7,4.2 307.7,5.2 307.7,7.4 307.8,8.2 307.8,9.6 307.9,12.6 308.0,13.7 308.0,16.2 308.1,17.7 308.2,20.4 308.2,22.0 308.3,23.8 308.4,25.8 308.4,28.9 308.5,31.3 308.6,34.1 308.6,35.3 308.7,38.4 308.8,40.5 308.8,43.0 308.9,44.9 308.9,47.4 309.0,50.0 309.0,52.4 309.1,53.1 309.1,55.5 309.1,57.9 309.2,60.0 309.2,60.9 309.2,62.8 309.3,66.0 309.3,68.0 309.3,69.4 309.4,70.9 309.4,74.2 309.4,75.5 309.4,78.3 309.5,80.0 309.5,82.4 309.5,83.5 309.6,86.5 309.6,87.8 309.6,90.1 309.7,92.8 309.7,94.8 309.7,96.0 309.8,98.0 309.8,100.3 309.8,102.4 309.9,104.2 309.9,105.7 310.0,107.8 310.0,110.3 310.1,112.8 310.1,113.8 310.2,116.8 310.2,119.4 310.3,120.6 310.4,124.1 310.4,125.3 310.5,128.3 310.6,130.5 310.7,132.9 310.7,134.6 310.8,137.0 310.9,139.4 311.0,141.3 311.0,143.7 311.1,145.4 311.2,147.3 311.3,148.6 311.4,151.2 311.4,152.8 311.5,154.1 311.6,156.3 311.7,157.8 311.7,158.7 311.8,159.6 312.0,162.8 312.2,164.3 312.3,165.7 312.6,167.5 313.6,168.4 314.3,170.1 315.2,171.1 316.2,171.2 318.0,173.1 319.0,173.0 321.0,174.1 322.3,173.3 323.9,171.6 325.9,169.7 327.6,169.6 329.5,168.7 331.6,168.8 333.7,167.2 335.8,168.0 338.2,168.3 339.4,168.1 341.7,168.6 343.6,168.1 345.1,169.8 346.2,169.9 348.0,170.9 348.7,169.5 349.2,166.3 349.5,166.0 349.8,165.0 350.6,161.7 351.7,160.3 353.1,159.1 354.5,156.8 355.9,156.8 358.1,155.0 360.2,156.0 361.2,155.7 362.2,157.6 363.2,160.2 363.7,160.3 364.2,161.5 364.6,163.0 365.6,164.7 366.7,166.5 367.3,167.8 368.4,169.7 369.5,172.3 370.9,172.3 372.6,170.8 373.5,168.0 374.1,167.3 374.7,164.2 375.0,163.6 375.3,162.5 375.6,161.0 375.9,160.5 376.5,157.9 377.1,156.3 377.8,155.3 378.4,153.0 379.8,153.1 381.1,153.2 382.1,154.2 383.1,156.6 383.7,157.0 384.3,159.1 384.8,159.6 385.9,161.3 386.9,163.7 387.9,165.3 388.9,166.9 389.9,169.5 390.8,170.0 392.6,172.7 393.8,171.9 396.1,171.8 397.2,171.7 398.2,170.1 399.4,168.4 400.0,166.8 400.6,165.3 401.8,163.3 403.0,161.6 404.8,161.1 405.9,160.4 408.2,161.1 409.1,163.2 409.9,164.5 410.3,165.9 410.7,167.7 411.4,168.9 412.9,170.6 414.4,171.0 416.1,170.7 418.1,170.9 420.4,170.7 422.5,171.5 424.7,172.1 426.9,172.2 429.2,173.1 431.3,172.6 433.2,171.1 435.2,171.0 437.1,168.8 439.1,168.0 441.3,168.1 443.5,169.5 445.7,170.5 447.9,170.7 449.8,169.8 451.6,169.0 453.5,167.8 455.6,168.0 457.6,167.5 459.7,167.0 462.0,167.2 464.2,166.8 466.4,167.4 468.3,167.0 470.6,166.5 472.5,168.0 474.6,166.9 476.1,167.0 477.5,166.0 479.3,164.9 481.7,163.8 483.2,164.5 484.7,163.2 486.2,163.8 487.8,164.2 489.5,163.0 491.3,163.0 493.4,163.5 495.6,163.3 496.8,163.4 498.1,163.6 499.4,162.7 500.8,162.8 502.3,162.8 503.9,162.4 505.5,163.5 507.2,163.3 509.1,163.1 511.1,162.0 513.2,163.1 515.4,162.9 517.6,162.4 520.0,162.7 522.3,162.2 524.7,161.8 527.0,161.6 529.4,161.7 531.7,161.3 534.0,161.7 536.2,162.2 538.3,162.0 540.3,162.2 542.2,162.0 544.0,161.3 545.6,161.7 547.0,161.5 550.1,162.0 552.1,161.8 553.6,161.5 555.6,162.4 557.1,163.4 558.0,163.0" fill="none" stroke="#f0142c" stroke-width="2.3" stroke-linejoin="round"/>
<polyline points="305.2,2.7 305.3,4.2 305.4,6.0 305.5,7.0 305.6,8.8 305.7,10.6 305.8,12.9 305.9,15.1 306.0,17.2 306.1,19.3 306.2,20.9 306.2,21.8 306.3,23.0 306.3,24.7 306.4,25.9 306.4,27.3 306.5,28.7 306.5,30.3 306.5,31.6 306.6,33.5 306.6,35.2 306.6,37.1 306.7,38.8 306.7,41.0 306.7,43.0 306.8,44.9 306.8,47.0 306.8,49.4 306.8,51.3 306.9,54.0 306.9,55.7 306.9,57.9 306.9,60.1 307.0,62.8 307.0,64.6 307.0,66.6 307.1,68.6 307.1,70.6 307.1,73.0 307.2,74.9 307.2,76.7 307.3,78.5 307.3,79.7 307.3,81.4 307.4,82.5 307.5,85.0 307.6,87.2 307.7,89.1 307.8,90.5 307.9,92.7 308.0,94.4 308.1,96.1 308.2,97.3 308.4,99.1 308.5,100.9 308.6,102.8 308.7,105.4 308.9,107.6 308.9,108.8 309.0,110.2 309.1,111.7 309.2,113.3 309.2,115.1 309.3,117.1 309.4,119.6 309.5,121.4 309.6,123.7 309.7,126.0 309.8,128.0 309.8,130.5 309.9,132.8 310.0,135.4 310.1,137.5 310.2,139.8 310.3,142.4 310.4,144.3 310.5,146.7 310.6,148.6 310.6,150.3 310.7,152.4 310.8,154.2 310.9,156.0 311.0,157.3 311.0,158.9 311.1,160.0 311.3,163.1 311.6,165.4 312.0,166.2 312.7,168.4 313.2,169.8 313.8,171.5 314.5,173.6 315.4,175.8 316.7,177.6 318.2,178.4 320.0,179.9 321.9,181.0 323.7,182.2 325.6,182.7 327.7,183.6 329.6,184.0 331.6,184.6 333.7,184.4 336.0,184.9 338.0,184.4 340.2,184.2 342.4,184.3 344.6,183.9 346.4,183.4 348.8,183.1 350.5,181.2 352.0,179.8 352.7,178.7 354.1,177.5 355.8,178.8 356.8,179.9 357.8,181.4 359.1,183.0 361.2,184.6 362.6,184.6 364.1,185.4 365.8,185.2 367.8,185.5 369.0,185.6 370.4,186.1 371.8,185.9 373.5,185.9 375.0,186.3 376.7,185.9 378.6,186.1 380.5,186.1 382.6,186.3 384.7,186.3 386.9,186.2 389.1,186.0 391.3,186.0 393.6,185.9 395.8,186.3 397.9,186.1 400.0,186.2 402.0,185.8 404.1,186.0 406.4,186.1 408.8,186.0 411.2,185.7 413.5,185.8 415.9,186.0 418.2,185.6 420.3,185.5 422.4,185.5 424.2,185.7 425.9,185.8 427.3,185.3 428.5,185.5" fill="none" stroke="#000" stroke-width="2.0" stroke-linejoin="round"/>
<rect x="303.7" y="2.7" width="255.50000000000006" height="187.3" fill="none" stroke="#000" stroke-width="1.4"/>
<path d="M304.8,190v-4M304.8,2.7v4M317.5,190v-2.5M317.5,2.7v2.5M330.2,190v-4M330.2,2.7v4M343.0,190v-2.5M343.0,2.7v2.5M355.7,190v-4M355.7,2.7v4M368.4,190v-2.5M368.4,2.7v2.5M381.1,190v-4M381.1,2.7v4M393.8,190v-2.5M393.8,2.7v2.5M406.6,190v-4M406.6,2.7v4M419.3,190v-2.5M419.3,2.7v2.5M432.0,190v-4M432.0,2.7v4M444.7,190v-2.5M444.7,2.7v2.5M457.4,190v-4M457.4,2.7v4M470.2,190v-2.5M470.2,2.7v2.5M482.9,190v-4M482.9,2.7v4M495.6,190v-2.5M495.6,2.7v2.5M508.3,190v-4M508.3,2.7v4M521.0,190v-2.5M521.0,2.7v2.5M533.8,190v-4M533.8,2.7v4M546.5,190v-2.5M546.5,2.7v2.5M303.7,180.6h2.5M559.2,180.6h-2.5M303.7,171.3h4M559.2,171.3h-4M303.7,161.9h2.5M559.2,161.9h-2.5M303.7,152.5h4M559.2,152.5h-4M303.7,143.2h2.5M559.2,143.2h-2.5M303.7,133.8h4M559.2,133.8h-4M303.7,124.4h2.5M559.2,124.4h-2.5M303.7,115.0h4M559.2,115.0h-4M303.7,105.7h2.5M559.2,105.7h-2.5M303.7,96.3h4M559.2,96.3h-4M303.7,86.9h2.5M559.2,86.9h-2.5M303.7,77.6h4M559.2,77.6h-4M303.7,68.2h2.5M559.2,68.2h-2.5M303.7,58.8h4M559.2,58.8h-4M303.7,49.5h2.5M559.2,49.5h-2.5M303.7,40.1h4M559.2,40.1h-4M303.7,30.7h2.5M559.2,30.7h-2.5M303.7,21.3h4M559.2,21.3h-4M303.7,12.0h2.5M559.2,12.0h-2.5" stroke="#000" stroke-width="1.2" fill="none"/>
<text x="304.8" y="204.1" font-family="Liberation Sans, sans-serif" font-weight="bold" font-size="12.6" text-anchor="middle">0</text>
<text x="330.2" y="204.1" font-family="Liberation Sans, sans-serif" font-weight="bold" font-size="12.6" text-anchor="middle">5</text>
<text x="355.7" y="204.1" font-family="Liberation Sans, sans-serif" font-weight="bold" font-size="12.6" text-anchor="middle">10</text>
<text x="381.1" y="204.1" font-family="Liberation Sans, sans-serif" font-weight="bold" font-size="12.6" text-anchor="middle">15</text>
<text x="406.6" y="204.1" font-family="Liberation Sans, sans-serif" font-weight="bold" font-size="12.6" text-anchor="middle">20</text>
<text x="432.0" y="204.1" font-family="Liberation Sans, sans-serif" font-weight="bold" font-size="12.6" text-anchor="middle">25</text>
<text x="457.4" y="204.1" font-family="Liberation Sans, sans-serif" font-weight="bold" font-size="12.6" text-anchor="middle">30</text>
<text x="482.9" y="204.1" font-family="Liberation Sans, sans-serif" font-weight="bold" font-size="12.6" text-anchor="middle">35</text>
<text x="508.3" y="204.1" font-family="Liberation Sans, sans-serif" font-weight="bold" font-size="12.6" text-anchor="middle">40</text>
<text x="533.8" y="204.1" font-family="Liberation Sans, sans-serif" font-weight="bold" font-size="12.6" text-anchor="middle">45</text>
<text x="559.2" y="204.1" font-family="Liberation Sans, sans-serif" font-weight="bold" font-size="12.6" text-anchor="middle">50</text>
<text x="401.3" y="220.4" font-family="Liberation Sans, sans-serif" font-weight="bold" font-size="14.4" textLength="59.6" lengthAdjust="spacingAndGlyphs">Time (s)</text>
<text transform="translate(297.2,99.4) rotate(-90)" font-family="Liberation Sans, sans-serif" font-weight="bold" font-size="13.6" text-anchor="middle">Intensity (a.u.)</text>
<text x="333.5" y="20.4" font-family="Liberation Sans, sans-serif" font-weight="bold" font-size="16">(b)</text>
<text x="364.3" y="36.5" font-family="Liberation Sans, sans-serif" font-weight="bold" font-size="11" textLength="159.7" lengthAdjust="spacingAndGlyphs">PMN-33PT/SRO(STO and ReScO<tspan font-size="6.5" dy="2" fill="#8090c0">3</tspan><tspan dy="-2">)</tspan></text>
<text x="533" y="56.8" font-family="Liberation Sans, sans-serif" font-weight="bold" font-size="8.6" fill="#6e0a18">NSO</text>
<text x="534" y="107.3" font-family="Liberation Sans, sans-serif" font-weight="bold" font-size="8.6" fill="#c058e0">SSO</text>
<text x="534" y="122.5" font-family="Liberation Sans, sans-serif" font-weight="bold" font-size="8.6" fill="#1a3cc8">GSO</text>
<text x="507.7" y="140.6" font-family="Liberation Sans, sans-serif" font-weight="bold" font-size="8.6" fill="#44e040">TSO</text>
<text x="534" y="157.6" font-family="Liberation Sans, sans-serif" font-weight="bold" font-size="8.6" fill="#e0183c">DSO</text>
<text x="435.9" y="186.6" font-family="Liberation Sans, sans-serif" font-weight="bold" font-size="8.6" fill="#000">STO</text>
<text x="408.8" y="128.3" font-family="Liberation Sans, sans-serif" font-weight="bold" font-size="8.6">Ix2</text>
<path d="M417,131.7L433.5,127" stroke="#000" stroke-width="1" fill="none"/><path d="M436,126.4l-4.2,-1.2l0.9,3.2z" fill="#000"/>
</svg>
</body></html>
